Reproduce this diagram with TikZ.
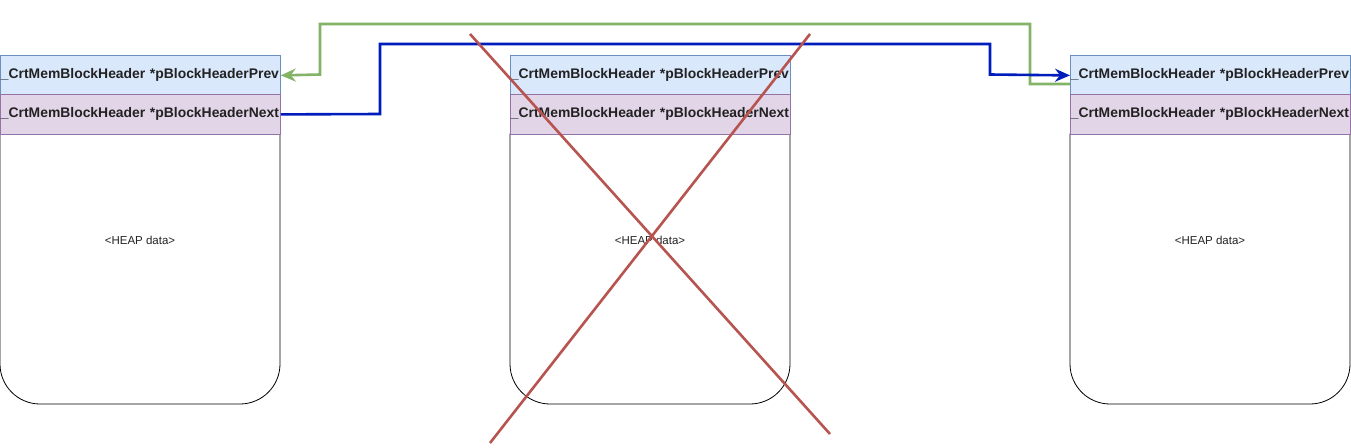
\documentclass[tikz,border=0pt]{standalone}
\usepackage{fontspec}
\setmainfont{Liberation Sans}
\usetikzlibrary{arrows.meta}
\definecolor{hdrfill}{HTML}{DAE8FC}
\definecolor{hdrline}{HTML}{6C8EBF}
\definecolor{nxtfill}{HTML}{E1D5E7}
\definecolor{nxtline}{HTML}{9673A6}
\definecolor{grn}{HTML}{82B366}
\definecolor{blu}{HTML}{001DBC}
\definecolor{redx}{HTML}{B85450}
\definecolor{txt}{HTML}{222222}
\tikzset{
  field/.style={draw, line width=0.8pt, minimum width=280pt, minimum height=40pt, anchor=north west,
    inner sep=0.5pt, text width=279pt, align=left, font=\fontsize{13.9}{15}\selectfont\bfseries, text=txt},
  prevf/.style={field, fill=hdrfill, draw=hdrline},
  nextf/.style={field, fill=nxtfill, draw=nxtline},
  body/.style={draw=black, line width=0.8pt, fill=white},
  heaplbl/.style={font=\fontsize{11.5}{13}\selectfont, text=txt},
  conn/.style={line width=2.6pt, line join=miter},
  tipc/.style={-{Stealth[length=15pt,width=13pt,inset=5pt]}},
  cross/.style={draw=redx, line width=2.6pt}
}
\begin{document}
\begin{tikzpicture}[x=1pt,y=-1pt]
\useasboundingbox (0,0) rectangle (1351,447);
% bodies
\foreach \bx/\nm in {0/b1,510/b2,1070/b3}{
  \path[body] (\bx,134) -- (\bx,364) arc[start angle=180,end angle=90,radius=40] -- (\bx+240,404)
     arc[start angle=90,end angle=0,radius=40] -- (\bx+280,134) -- cycle;
  \node[heaplbl] (\nm) at (\bx+140,240) {<HEAP data>};
}
% header fields
\node[prevf] (p1) at (0,55) {\_CrtMemBlockHeader *pBlockHeaderPrev};
\node[nextf] (n1) at (0,94) {\_CrtMemBlockHeader *pBlockHeaderNext};
\node[prevf] (p2) at (510,55) {\_CrtMemBlockHeader *pBlockHeaderPrev};
\node[nextf] (n2) at (510,94) {\_CrtMemBlockHeader *pBlockHeaderNext};
\node[prevf] (p3) at (1070,55) {\_CrtMemBlockHeader *pBlockHeaderPrev};
\node[nextf] (n3) at (1070,94) {\_CrtMemBlockHeader *pBlockHeaderNext};
% connectors
\coordinate (g0) at (1070,84);
\draw[conn, grn, tipc] (g0) -- (1030,84) -- (1030,24) -- (320,24) -- (320,74.5) -- (p1.east);
\draw[conn, blu, tipc] (n1.east) -- (380,114) -- (380,44) -- (990,44) -- (990,74.5) -- (p3.west);
% red cross
\coordinate (x1) at (470,34);
\coordinate (x2) at (830,434);
\coordinate (x3) at (810,34);
\coordinate (x4) at (490,443);
\draw[cross] (x1) -- (x2);
\draw[cross] (x3) -- (x4);
\end{tikzpicture}
\end{document}
